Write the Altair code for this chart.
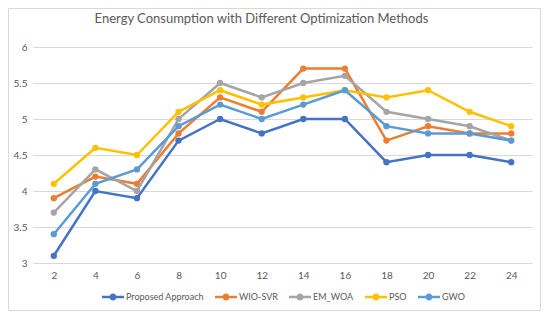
import altair as alt
import pandas as pd

x_values = [2, 4, 6, 8, 10, 12, 14, 16, 18, 20, 22, 24]
series_names = ["Proposed Approach", "WIO-SVR", "EM_WOA", "PSO", "GWO"]
proposed = [3.1, 4.0, 3.9, 4.7, 5.0, 4.8, 5.0, 5.0, 4.4, 4.5, 4.5, 4.4]
wio_svr = [3.9, 4.2, 4.1, 4.8, 5.3, 5.1, 5.7, 5.7, 4.7, 4.9, 4.8, 4.8]
em_woa = [3.7, 4.3, 4.0, 5.0, 5.5, 5.3, 5.5, 5.6, 5.1, 5.0, 4.9, 4.7]
pso = [4.1, 4.6, 4.5, 5.1, 5.4, 5.2, 5.3, 5.4, 5.3, 5.4, 5.1, 4.9]
gwo = [3.4, 4.1, 4.3, 4.9, 5.2, 5.0, 5.2, 5.4, 4.9, 4.8, 4.8, 4.7]
y_ticks = [3, 3.5, 4, 4.5, 5, 5.5, 6]
colors = ["#4472C4", "#ED7D31", "#A5A5A5", "#FFC000", "#5B9BD5"]

rows = []
for name, vals in zip(series_names, [proposed, wio_svr, em_woa, pso, gwo]):
    for xv, yv in zip(x_values, vals):
        rows.append({"x": xv, "series": name, "value": yv})
df = pd.DataFrame(rows)

FONT = "Lato"
TXT = "#595959"

xenc = alt.X(
    "x:O",
    scale=alt.Scale(type="point", padding=0.5),
    axis=alt.Axis(title=None, labelAngle=0, ticks=False, domain=False, grid=False,
                  labelPadding=7, labelColor=TXT, labelFontSize=10, labelFont=FONT),
)
yenc = alt.Y(
    "value:Q",
    scale=alt.Scale(domain=[3, 6], nice=False, zero=False),
    axis=alt.Axis(title=None, values=y_ticks, format="~g", ticks=False, domain=False,
                  gridColor="#d9d9d9", gridWidth=1, labelPadding=6, labelColor=TXT,
                  labelFontSize=10, labelFont=FONT),
)

legend_path = ("M-1,-0.11 L1,-0.11 L1,0.11 L-1,0.11 Z "
               "M0.32,0 A0.32,0.32 0 1,1 -0.32,0 A0.32,0.32 0 1,1 0.32,0 Z")
legend = alt.Legend(title=None, orient="none", legendX=69, legendY=239,
                    direction="horizontal", symbolType=legend_path, symbolSize=484,
                    symbolStrokeWidth=0, symbolOpacity=1, labelFont=FONT,
                    labelFontSize=9, labelColor=TXT, columnPadding=11,
                    labelOffset=2, padding=0)
fill_scale = alt.Scale(domain=series_names, range=colors)

frame = alt.Chart(pd.DataFrame({"a": [0]})).mark_rect(
    fill="white", fillOpacity=0, stroke="#d9d9d9", strokeWidth=1
).encode(x=alt.value(-24.5), x2=alt.value(507.5), y=alt.value(-38.5), y2=alt.value(263.5))

layers = [frame]
for name, col in zip(series_names, colors):
    base = alt.Chart(df).transform_filter(alt.datum.series == name)
    line = base.mark_line(strokeWidth=2.5, color=col).encode(x=xenc, y=yenc)
    pts = base.mark_point(filled=True, size=40, opacity=1).encode(
        x=xenc, y=yenc,
        fill=alt.Fill("series:N", scale=fill_scale, legend=legend),
    )
    layers += [line, pts]

chart = alt.layer(*layers).properties(
    width=499, height=216,
    autosize=alt.AutoSizeParams(type="none"),
    padding={"left": 25, "top": 39, "right": 9, "bottom": 48},
    title=alt.TitleParams("Energy Consumption  with Different Optimization Methods",
                          font=FONT, fontSize=13, fontWeight="normal", color=TXT,
                          anchor="middle", dx=-21, offset=-18),
).configure_view(stroke=None)

chart.save("out.html", embed_options={"renderer": "svg", "actions": False})
